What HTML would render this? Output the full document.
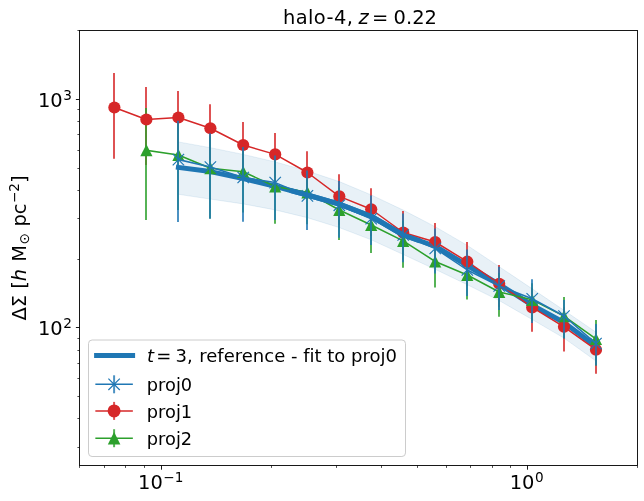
<!DOCTYPE html>
<html><head><meta charset="utf-8"><title>halo-4</title>
<style>html,body{margin:0;padding:0;background:#fff}svg{display:block}text{font-variant-ligatures:none;font-family:"DejaVu Sans","Liberation Sans",sans-serif;fill:#000}.i{font-style:oblique}</style>
</head><body>
<svg width="644" height="501" viewBox="0 0 644 501">
<rect width="644" height="501" fill="#fff"/>
<clipPath id="c"><rect x="79.5" y="30.5" width="558.0" height="435.0"/></clipPath>
<g clip-path="url(#c)">
<path d="M178.40 141.90L210.40 147.70L243.20 154.40L275.20 161.90L307.40 171.00L339.30 181.60L371.20 194.90L403.20 210.10L435.20 226.70L467.30 245.40L499.20 266.70L532.20 288.80L564.00 310.30L596.00 332.20L596.00 361.00L564.00 338.10L532.20 319.50L499.20 300.60L467.30 284.70L435.20 269.30L403.20 254.50L371.20 239.80L339.30 227.60L307.40 217.70L275.20 209.90L243.20 203.90L210.40 199.10L178.40 194.30Z" fill="#1f77b4" fill-opacity="0.1" stroke="#1f77b4" stroke-opacity="0.1" stroke-width="1"/>
<path d="M114 73.00V158.75M146 87.00V165.00M178 91.00V153.76M210 104.25V159.97M243 122.00V174.99M275 133.00V181.72M307 151.25V199.57M339 174.30V224.87M371 188.25V235.92M403 211.10V259.82M435 223.00V265.52M467 242.00V286.30M499 265.00V306.89M532 287.89V331.70M564 307.10V351.40M596 330.39V373.70" stroke="#d62728" stroke-width="2" stroke-opacity="0.8" fill="none"/>
<path d="M146 108.00V220.00M178 120.52V210.00M210 135.69V218.50M243 143.77V212.50M275 160.24V223.75M307 168.95V224.25M339 187.79V240.00M371 203.99V253.00M403 220.47V267.70M435 241.73V287.50M467 256.25V299.40M499 273.03V316.75M532 283.25V320.90M564 297.00V338.20M596 320.00V365.40" stroke="#2ca02c" stroke-width="2" stroke-opacity="0.8" fill="none"/>
<path d="M178.40 167.40L210.40 171.60L243.20 178.60L275.20 186.30L307.40 195.00L339.30 204.20L371.20 216.25L403.20 235.00L435.20 246.25L467.30 265.50L499.20 284.30L532.20 305.20L564.00 322.50L596.00 346.50" stroke="#1f77b4" stroke-width="5" fill="none" stroke-linejoin="round" stroke-linecap="square"/>
<path d="M114.40 107.50L146.40 119.50L178.40 117.50L210.40 128.25L243.20 145.00L275.20 154.40L307.40 172.50L339.30 196.40L371.20 209.25L403.20 232.50L435.20 242.00L467.30 261.70L499.20 283.75L532.20 307.40L564.00 326.80L596.00 349.70" stroke="#d62728" stroke-width="1.5" fill="none" stroke-linejoin="round" stroke-linecap="square"/>
<circle cx="114.40" cy="107.50" r="6.1" fill="#d62728"/><circle cx="146.40" cy="119.50" r="6.1" fill="#d62728"/><circle cx="178.40" cy="117.50" r="6.1" fill="#d62728"/><circle cx="210.40" cy="128.25" r="6.1" fill="#d62728"/><circle cx="243.20" cy="145.00" r="6.1" fill="#d62728"/><circle cx="275.20" cy="154.40" r="6.1" fill="#d62728"/><circle cx="307.40" cy="172.50" r="6.1" fill="#d62728"/><circle cx="339.30" cy="196.40" r="6.1" fill="#d62728"/><circle cx="371.20" cy="209.25" r="6.1" fill="#d62728"/><circle cx="403.20" cy="232.50" r="6.1" fill="#d62728"/><circle cx="435.20" cy="242.00" r="6.1" fill="#d62728"/><circle cx="467.30" cy="261.70" r="6.1" fill="#d62728"/><circle cx="499.20" cy="283.75" r="6.1" fill="#d62728"/><circle cx="532.20" cy="307.40" r="6.1" fill="#d62728"/><circle cx="564.00" cy="326.80" r="6.1" fill="#d62728"/><circle cx="596.00" cy="349.70" r="6.1" fill="#d62728"/>
<path d="M146.40 150.25L178.40 155.00L210.40 168.20L243.20 171.80L275.20 186.50L307.40 192.30L339.30 210.00L371.20 225.00L403.20 240.80L435.20 261.50L467.30 275.00L499.20 292.00L532.20 299.80L564.00 316.10L596.00 339.00" stroke="#2ca02c" stroke-width="1.5" fill="none" stroke-linejoin="round" stroke-linecap="square"/>
<path d="M146.40 144.15L152.50 156.35L140.30 156.35Z" fill="#2ca02c"/><path d="M178.40 148.90L184.50 161.10L172.30 161.10Z" fill="#2ca02c"/><path d="M210.40 162.10L216.50 174.30L204.30 174.30Z" fill="#2ca02c"/><path d="M243.20 165.70L249.30 177.90L237.10 177.90Z" fill="#2ca02c"/><path d="M275.20 180.40L281.30 192.60L269.10 192.60Z" fill="#2ca02c"/><path d="M307.40 186.20L313.50 198.40L301.30 198.40Z" fill="#2ca02c"/><path d="M339.30 203.90L345.40 216.10L333.20 216.10Z" fill="#2ca02c"/><path d="M371.20 218.90L377.30 231.10L365.10 231.10Z" fill="#2ca02c"/><path d="M403.20 234.70L409.30 246.90L397.10 246.90Z" fill="#2ca02c"/><path d="M435.20 255.40L441.30 267.60L429.10 267.60Z" fill="#2ca02c"/><path d="M467.30 268.90L473.40 281.10L461.20 281.10Z" fill="#2ca02c"/><path d="M499.20 285.90L505.30 298.10L493.10 298.10Z" fill="#2ca02c"/><path d="M532.20 293.70L538.30 305.90L526.10 305.90Z" fill="#2ca02c"/><path d="M564.00 310.00L570.10 322.20L557.90 322.20Z" fill="#2ca02c"/><path d="M596.00 332.90L602.10 345.10L589.90 345.10Z" fill="#2ca02c"/>
<path d="M290 190.3L307.4 195L339.3 204.2L371.2 216.25L403.2 235L420 240.9" stroke="#1f77b4" stroke-width="5" fill="none" stroke-linejoin="round"/>
<path d="M178 120.75V222.00M210 133.16V218.75M243 147.00V221.75M275 155.50V220.00M307 170.57V230.00M339 180.91V237.70M371 195.50V245.00M403 213.61V262.30M435 228.48V273.60M467 249.42V296.00M499 266.69V310.00M532 279.28V323.00M564 300.00V338.40M596 324.00V365.60" stroke="#1f77b4" stroke-width="2" stroke-opacity="0.8" fill="none"/>
<path d="M178.40 159.60L210.40 167.00L243.20 177.50L275.20 182.60L307.40 195.90L339.30 205.30L371.20 218.75L403.20 235.00L435.20 248.50L467.30 270.00L499.20 286.00L532.20 298.75L564.00 316.00L596.00 343.60" stroke="#1f77b4" stroke-width="1.5" fill="none" stroke-linejoin="round" stroke-linecap="square"/>
<path d="M172.70 153.90L184.10 165.30M172.70 165.30L184.10 153.90M204.70 161.30L216.10 172.70M204.70 172.70L216.10 161.30M237.50 171.80L248.90 183.20M237.50 183.20L248.90 171.80M269.50 176.90L280.90 188.30M269.50 188.30L280.90 176.90M301.70 190.20L313.10 201.60M301.70 201.60L313.10 190.20M333.60 199.60L345.00 211.00M333.60 211.00L345.00 199.60M365.50 213.05L376.90 224.45M365.50 224.45L376.90 213.05M397.50 229.30L408.90 240.70M397.50 240.70L408.90 229.30M429.50 242.80L440.90 254.20M429.50 254.20L440.90 242.80M461.60 264.30L473.00 275.70M461.60 275.70L473.00 264.30M493.50 280.30L504.90 291.70M493.50 291.70L504.90 280.30M526.50 293.05L537.90 304.45M526.50 304.45L537.90 293.05M558.30 310.30L569.70 321.70M558.30 321.70L569.70 310.30M590.30 337.90L601.70 349.30M590.30 349.30L601.70 337.90" stroke="#1f77b4" stroke-width="1.2" fill="none"/>
</g>
<path d="M161.50 465.5v4.2" stroke="#000" stroke-width="0.9"/>
<path d="M527.50 465.5v4.2" stroke="#000" stroke-width="0.9"/>
<path d="M104.50 465.5v2.4" stroke="#000" stroke-width="0.7"/>
<path d="M125.50 465.5v2.4" stroke="#000" stroke-width="0.7"/>
<path d="M144.50 465.5v2.4" stroke="#000" stroke-width="0.7"/>
<path d="M271.50 465.5v2.4" stroke="#000" stroke-width="0.7"/>
<path d="M336.50 465.5v2.4" stroke="#000" stroke-width="0.7"/>
<path d="M381.50 465.5v2.4" stroke="#000" stroke-width="0.7"/>
<path d="M417.50 465.5v2.4" stroke="#000" stroke-width="0.7"/>
<path d="M446.50 465.5v2.4" stroke="#000" stroke-width="0.7"/>
<path d="M470.50 465.5v2.4" stroke="#000" stroke-width="0.7"/>
<path d="M492.50 465.5v2.4" stroke="#000" stroke-width="0.7"/>
<path d="M510.50 465.5v2.4" stroke="#000" stroke-width="0.7"/>
<path d="M79.50 465.5v2.4" stroke="#000" stroke-width="0.7"/>
<path d="M637.50 465.5v2.4" stroke="#000" stroke-width="0.7"/>
<path d="M79.5 327.50h-3.6" stroke="#000" stroke-width="0.9"/>
<path d="M79.5 99.50h-3.6" stroke="#000" stroke-width="0.9"/>
<path d="M79.5 447.50h-2.1" stroke="#000" stroke-width="0.7"/>
<path d="M79.5 418.50h-2.1" stroke="#000" stroke-width="0.7"/>
<path d="M79.5 396.50h-2.1" stroke="#000" stroke-width="0.7"/>
<path d="M79.5 378.50h-2.1" stroke="#000" stroke-width="0.7"/>
<path d="M79.5 363.50h-2.1" stroke="#000" stroke-width="0.7"/>
<path d="M79.5 350.50h-2.1" stroke="#000" stroke-width="0.7"/>
<path d="M79.5 338.50h-2.1" stroke="#000" stroke-width="0.7"/>
<path d="M79.5 259.50h-2.1" stroke="#000" stroke-width="0.7"/>
<path d="M79.5 218.50h-2.1" stroke="#000" stroke-width="0.7"/>
<path d="M79.5 190.50h-2.1" stroke="#000" stroke-width="0.7"/>
<path d="M79.5 168.50h-2.1" stroke="#000" stroke-width="0.7"/>
<path d="M79.5 150.50h-2.1" stroke="#000" stroke-width="0.7"/>
<path d="M79.5 134.50h-2.1" stroke="#000" stroke-width="0.7"/>
<path d="M79.5 121.50h-2.1" stroke="#000" stroke-width="0.7"/>
<path d="M79.5 109.50h-2.1" stroke="#000" stroke-width="0.7"/>
<path d="M79.5 30.50h-2.1" stroke="#000" stroke-width="0.7"/>
<rect x="79.5" y="30.5" width="558.0" height="435.0" fill="none" stroke="#000" stroke-width="0.9"/>
<g font-size="19.44">
<text x="283" y="24" letter-spacing="0.4">halo-4,</text><text x="358.4" y="24" class="i">z</text><text x="372" y="24">=</text><text x="393.6" y="24">0.22</text>
<text x="138.1" y="489.2">10<tspan font-size="13.6" dy="-7.1" dx="0.5">−1</tspan></text>
<text x="509.7" y="489.2">10<tspan font-size="13.6" dy="-7.1" dx="0.6">0</tspan></text>
<text x="38" y="335.0">10<tspan font-size="13.6" dy="-7.1" dx="0.6">2</tspan></text>
<text x="38" y="107.0">10<tspan font-size="13.6" dy="-7.1" dx="0.6">3</tspan></text>
<text transform="translate(26 320.5) rotate(-90)">ΔΣ [<tspan class="i">h</tspan><tspan dx="0.8"> M</tspan><tspan font-size="13.6" dy="3" dx="0.5">⊙</tspan><tspan dy="-3" dx="0.4"> pc</tspan><tspan font-size="13.6" dy="-7.1" dx="0.5">−2</tspan><tspan dy="7.1">]</tspan></text>
</g>
<rect x="88.5" y="340" width="317" height="116.5" rx="3.6" fill="#fff" fill-opacity="0.8" stroke="#ccc" stroke-width="1"/>
<path d="M96.6 355.6h36" stroke="#1f77b4" stroke-width="5" stroke-linecap="square"/>
<text x="147" y="362" font-size="18"><tspan class="i">t</tspan><tspan dx="2.1">=</tspan><tspan dx="4.2">3,</tspan><tspan dx="0.9"> reference - fit to proj0</tspan></text>
<g stroke="#1f77b4" fill="none"><path d="M114.1 375.3v18" stroke-width="2" stroke-opacity="0.8"/><path d="M96.1 384.3h36" stroke-width="1.5" stroke-linecap="square"/><path d="M108.4 378.6l11.4 11.4M108.4 390l11.4 -11.4" stroke-width="1.2"/></g>
<text x="146.8" y="391.2" font-size="17.8">proj0</text>
<g stroke="#d62728" fill="none"><path d="M114.1 401.9v18" stroke-width="2" stroke-opacity="0.8"/><path d="M96.1 410.9h36" stroke-width="1.5" stroke-linecap="square"/><circle cx="114.1" cy="410.9" r="6.5" fill="#d62728" stroke="none"/></g>
<text x="146.8" y="418.0" font-size="17.8">proj1</text>
<g stroke="#2ca02c" fill="none"><path d="M114.1 429.2v18" stroke-width="2" stroke-opacity="0.8"/><path d="M96.1 438.2h36" stroke-width="1.5" stroke-linecap="square"/><path d="M114.1 431.9l6.3 12.6h-12.6z" fill="#2ca02c" stroke="none"/></g>
<text x="146.8" y="445.2" font-size="17.8">proj2</text>
</svg>
</body></html>
